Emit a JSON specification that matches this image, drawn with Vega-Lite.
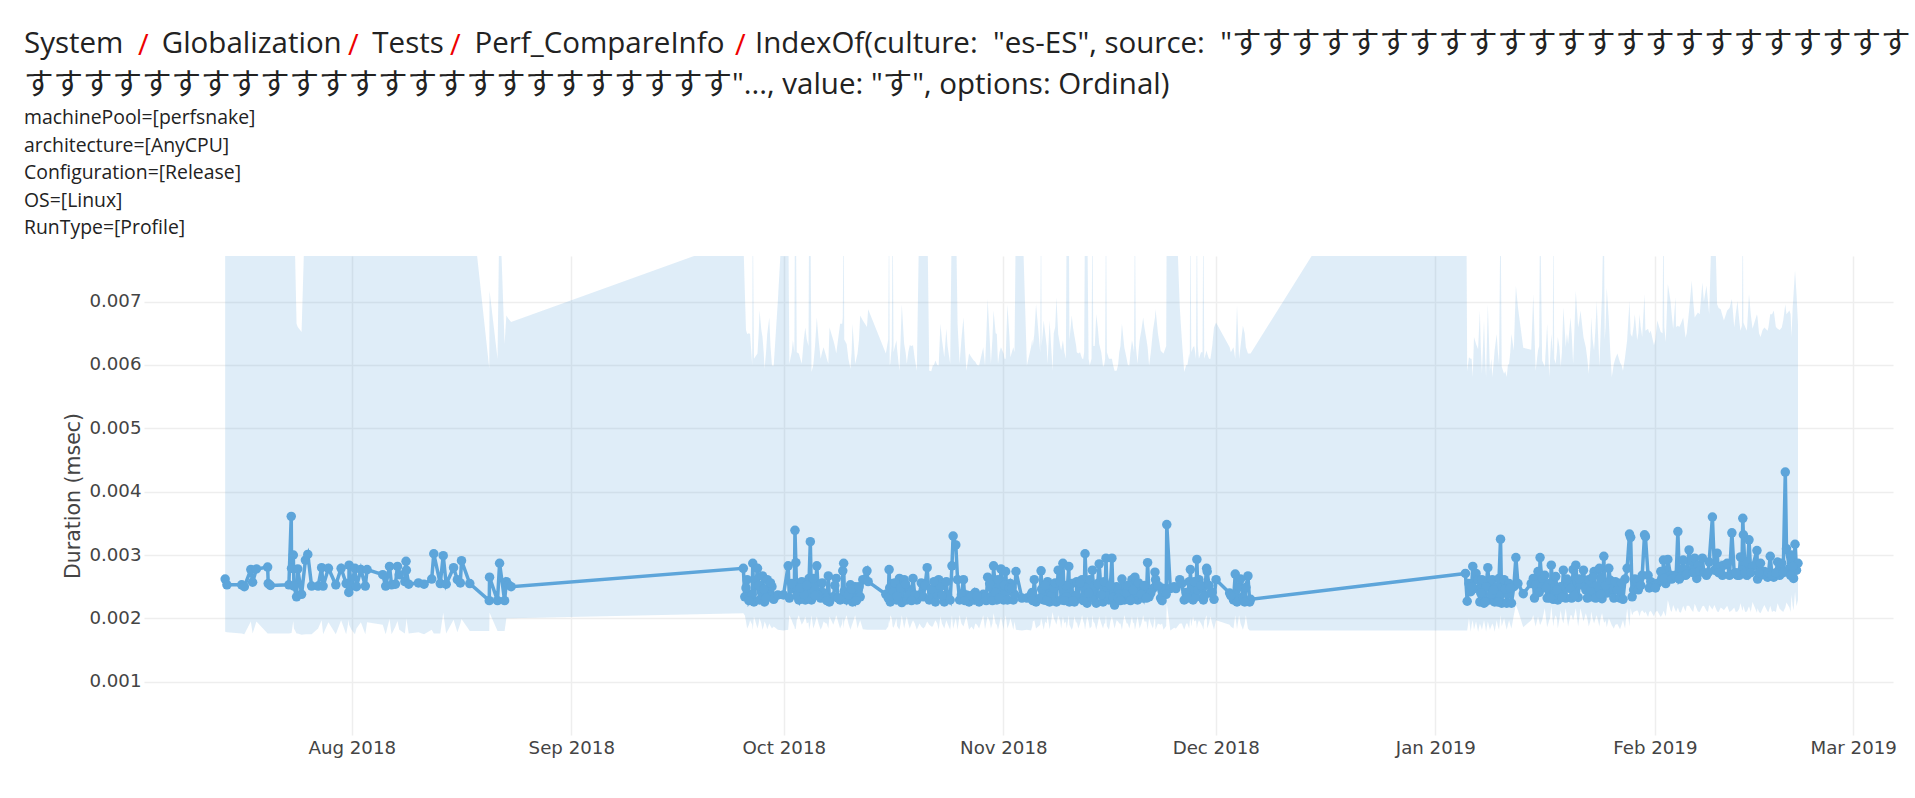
{"$schema":"https://vega.github.io/schema/vega-lite/v6.json","width":1749,"height":479,"autosize":"none","padding":{"left":144,"top":256,"right":22,"bottom":63},"background":"white",
"title":{"text":["System\u00a0\u00a0\u00a0\u00a0\u00a0Globalization\u00a0\u00a0\u00a0\u00a0Tests\u00a0\u00a0\u00a0\u00a0Perf_CompareInfo\u00a0\u00a0\u00a0\u00a0IndexOf(culture:\u00a0\u00a0\"es-ES\", source:\u00a0\u00a0\"すすすすすすすすすすすすすすすすすすすすすすす","すすすすすすすすすすすすすすすすすすすすすすすす\"..., value: \"す\", options: Ordinal)"],"subtitle":["machinePool=[perfsnake]","architecture=[AnyCPU]","Configuration=[Release]","OS=[Linux]","RunType=[Profile]"],"anchor":"start","frame":"group","dx":-120,"offset":-206.5,"font":"Open Sans, Noto Sans CJK JP","fontSize":29.5,"fontWeight":"normal","color":"#222222","lineHeight":41,"subtitleFont":"Open Sans","subtitleFontSize":19.4,"subtitleColor":"#222222","subtitleLineHeight":27.5,"subtitlePadding":9},
"config":{"view":{"stroke":null},"font":"Open Sans"},
"data":{"values":[
{"d":"2018-07-14T03:00","v":0.00262,"l":0.00179,"u":0.0086},{"d":"2018-07-14T09:00","v":0.00253,"l":0.00178,"u":0.0086},{"d":"2018-07-16T11:00","v":0.00253,"l":0.00176,"u":0.0086},{"d":"2018-07-16T20:00","v":0.0025,"l":0.00175,"u":0.0086},{"d":"2018-07-17T18:00","v":0.00277,"l":0.00195,"u":0.0086},{"d":"2018-07-18T00:00","v":0.00257,"l":0.00176,"u":0.0086},{"d":"2018-07-18T13:00","v":0.00278,"l":0.00195,"u":0.0086},{"d":"2018-07-20T03:00","v":0.00281,"l":0.00176,"u":0.0086},{"d":"2018-07-20T05:00","v":0.00255,"l":0.00176,"u":0.0086},{"d":"2018-07-20T12:00","v":0.00252,"l":0.00176,"u":0.0086},{"d":"2018-07-23T03:00","v":0.00253,"l":0.00176,"u":0.0086},{"d":"2018-07-23T11:00","v":0.00361,"l":0.00177,"u":0.0086},{"d":"2018-07-23T12:00","v":0.00279,"l":0.00177,"u":0.0086},{"d":"2018-07-23T18:00","v":0.003,"l":0.00196,"u":0.0086},{"d":"2018-07-23T20:00","v":0.00251,"l":0.00184,"u":0.0086},{"d":"2018-07-24T05:00","v":0.00234,"l":0.00176,"u":0.00665},{"d":"2018-07-24T09:00","v":0.00278,"l":0.00176,"u":0.0066},{"d":"2018-07-24T22:00","v":0.00238,"l":0.00174,"u":0.00652},{"d":"2018-07-25T11:00","v":0.00292,"l":0.00175,"u":0.0086},{"d":"2018-07-25T19:00","v":0.00301,"l":0.00175,"u":0.0086},{"d":"2018-07-26T08:00","v":0.00251,"l":0.00175,"u":0.0086},{"d":"2018-07-27T06:00","v":0.00251,"l":0.00184,"u":0.0086},{"d":"2018-07-27T18:00","v":0.0028,"l":0.00197,"u":0.0086},{"d":"2018-07-27T23:00","v":0.00251,"l":0.00175,"u":0.0086},{"d":"2018-07-28T17:00","v":0.00279,"l":0.00194,"u":0.0086},{"d":"2018-07-29T18:00","v":0.00253,"l":0.00175,"u":0.0086},{"d":"2018-07-30T12:00","v":0.00279,"l":0.00197,"u":0.0086},{"d":"2018-07-31T05:00","v":0.00255,"l":0.00175,"u":0.0086},{"d":"2018-07-31T14:00","v":0.00241,"l":0.00198,"u":0.0086},{"d":"2018-07-31T15:00","v":0.00284,"l":0.0019,"u":0.0086},{"d":"2018-07-31T23:00","v":0.00251,"l":0.00182,"u":0.0086},{"d":"2018-08-01T11:00","v":0.00279,"l":0.00175,"u":0.0086},{"d":"2018-08-01T16:00","v":0.0025,"l":0.00184,"u":0.0086},{"d":"2018-08-02T07:00","v":0.00277,"l":0.00194,"u":0.0086},{"d":"2018-08-02T22:00","v":0.00251,"l":0.00175,"u":0.0086},{"d":"2018-08-03T04:00","v":0.00277,"l":0.00194,"u":0.0086},{"d":"2018-08-05T09:00","v":0.00269,"l":0.0019,"u":0.0086},{"d":"2018-08-05T19:00","v":0.00251,"l":0.00175,"u":0.0086},{"d":"2018-08-06T08:00","v":0.00282,"l":0.00199,"u":0.0086},{"d":"2018-08-06T15:00","v":0.00253,"l":0.00175,"u":0.0086},{"d":"2018-08-07T04:00","v":0.00254,"l":0.00187,"u":0.0086},{"d":"2018-08-07T11:00","v":0.00282,"l":0.00196,"u":0.0086},{"d":"2018-08-07T17:00","v":0.00269,"l":0.00182,"u":0.0086},{"d":"2018-08-08T12:00","v":0.00258,"l":0.00176,"u":0.0086},{"d":"2018-08-08T16:00","v":0.0029,"l":0.00192,"u":0.0086},{"d":"2018-08-08T17:00","v":0.00276,"l":0.002,"u":0.0086},{"d":"2018-08-09T01:00","v":0.00254,"l":0.00176,"u":0.0086},{"d":"2018-08-10T10:00","v":0.00256,"l":0.00178,"u":0.0086},{"d":"2018-08-11T05:00","v":0.00254,"l":0.00175,"u":0.0086},{"d":"2018-08-12T07:00","v":0.00262,"l":0.00182,"u":0.0086},{"d":"2018-08-12T14:00","v":0.00302,"l":0.00176,"u":0.0086},{"d":"2018-08-13T12:00","v":0.00255,"l":0.00176,"u":0.0086},{"d":"2018-08-13T22:00","v":0.00299,"l":0.00209,"u":0.0086},{"d":"2018-08-14T08:00","v":0.00254,"l":0.00176,"u":0.0086},{"d":"2018-08-15T09:00","v":0.0028,"l":0.00198,"u":0.0086},{"d":"2018-08-15T22:00","v":0.00261,"l":0.00178,"u":0.0086},{"d":"2018-08-16T08:00","v":0.00256,"l":0.00192,"u":0.0086},{"d":"2018-08-16T12:00","v":0.00291,"l":0.00199,"u":0.0086},{"d":"2018-08-17T16:00","v":0.00255,"l":0.0018,"u":0.00879},{"d":"2018-08-20T10:00","v":0.00228,"l":0.0018,"u":0.00595},{"d":"2018-08-20T11:00","v":0.00265,"l":0.00209,"u":0.00717},{"d":"2018-08-21T14:00","v":0.00228,"l":0.0018,"u":0.0061},{"d":"2018-08-21T21:00","v":0.00287,"l":0.0018,"u":0.0086},{"d":"2018-08-22T14:00","v":0.00228,"l":0.0018,"u":0.00633},{"d":"2018-08-22T20:00","v":0.00258,"l":0.002,"u":0.00678},{"d":"2018-08-23T03:00","v":0.00253,"l":0.002,"u":0.00673},{"d":"2018-08-23T12:00","v":0.0025,"l":0.002,"u":0.00668},
{"d":"2018-09-25T07:00","v":0.00279,"l":0.00208,"u":0.008},{"d":"2018-09-25T12:00","v":0.00234,"l":0.00205,"u":0.00717},{"d":"2018-09-25T20:00","v":0.00261,"l":0.00184,"u":0.00649},{"d":"2018-09-26T06:00","v":0.00232,"l":0.00197,"u":0.00649},{"d":"2018-09-26T15:00","v":0.00287,"l":0.00182,"u":0.0086},{"d":"2018-09-26T19:00","v":0.00226,"l":0.00203,"u":0.0061},{"d":"2018-09-27T07:00","v":0.00279,"l":0.00184,"u":0.00618},{"d":"2018-09-27T14:00","v":0.00229,"l":0.002,"u":0.00686},{"d":"2018-09-28T00:00","v":0.00267,"l":0.00182,"u":0.00644},{"d":"2018-09-28T07:00","v":0.00226,"l":0.00195,"u":0.00594},{"d":"2018-09-28T16:00","v":0.00261,"l":0.00183,"u":0.00649},{"d":"2018-09-28T23:00","v":0.00234,"l":0.00192,"u":0.00675},{"d":"2018-09-29T08:00","v":0.0025,"l":0.00184,"u":0.00599},{"d":"2018-09-29T14:00","v":0.0023,"l":0.00187,"u":0.00599},{"d":"2018-09-30T04:00","v":0.00237,"l":0.00182,"u":0.00701},{"d":"2018-09-30T23:00","v":0.00237,"l":0.00181,"u":0.0086},{"d":"2018-10-01T15:00","v":0.00283,"l":0.00182,"u":0.0086},{"d":"2018-10-01T19:00","v":0.00232,"l":0.00205,"u":0.00602},{"d":"2018-10-02T07:00","v":0.00247,"l":0.00192,"u":0.00639},{"d":"2018-10-02T14:00","v":0.00339,"l":0.00183,"u":0.0086},{"d":"2018-10-02T17:00","v":0.00288,"l":0.00184,"u":0.0086},{"d":"2018-10-03T03:00","v":0.00229,"l":0.00205,"u":0.00618},{"d":"2018-10-03T13:00","v":0.00258,"l":0.0019,"u":0.00602},{"d":"2018-10-04T01:00","v":0.00229,"l":0.00203,"u":0.00659},{"d":"2018-10-04T14:00","v":0.00263,"l":0.00182,"u":0.0086},{"d":"2018-10-04T18:00","v":0.00321,"l":0.00191,"u":0.0086},{"d":"2018-10-04T22:00","v":0.00229,"l":0.00205,"u":0.00589},{"d":"2018-10-05T04:00","v":0.00263,"l":0.00184,"u":0.00599},{"d":"2018-10-05T16:00","v":0.00283,"l":0.00203,"u":0.00675},{"d":"2018-10-06T05:00","v":0.00232,"l":0.00182,"u":0.0061},{"d":"2018-10-06T15:00","v":0.0024,"l":0.00195,"u":0.00628},{"d":"2018-10-07T07:00","v":0.00267,"l":0.00184,"u":0.00602},{"d":"2018-10-07T11:00","v":0.00226,"l":0.00203,"u":0.00659},{"d":"2018-10-08T00:00","v":0.00234,"l":0.0019,"u":0.00639},{"d":"2018-10-08T10:00","v":0.00263,"l":0.00205,"u":0.00618},{"d":"2018-10-08T23:00","v":0.00229,"l":0.00184,"u":0.00665},{"d":"2018-10-09T08:00","v":0.00275,"l":0.002,"u":0.00675},{"d":"2018-10-09T11:00","v":0.00287,"l":0.00184,"u":0.0086},{"d":"2018-10-09T21:00","v":0.00229,"l":0.00205,"u":0.00633},{"d":"2018-10-10T10:00","v":0.00253,"l":0.00182,"u":0.00594},{"d":"2018-10-10T17:00","v":0.00226,"l":0.00192,"u":0.00665},{"d":"2018-10-11T02:00","v":0.0025,"l":0.00205,"u":0.00602},{"d":"2018-10-11T10:00","v":0.00232,"l":0.00184,"u":0.00618},{"d":"2018-10-11T19:00","v":0.00234,"l":0.00197,"u":0.00678},{"d":"2018-10-12T04:00","v":0.00261,"l":0.00183,"u":0.0067},{"d":"2018-10-12T18:00","v":0.00275,"l":0.00182,"u":0.0066},{"d":"2018-10-12T22:00","v":0.00258,"l":0.00182,"u":0.00688},{"d":"2018-10-15T10:00","v":0.00238,"l":0.00182,"u":0.00618},{"d":"2018-10-15T21:00","v":0.00277,"l":0.00197,"u":0.0086},{"d":"2018-10-16T01:00","v":0.00226,"l":0.00205,"u":0.00602},{"d":"2018-10-16T09:00","v":0.00255,"l":0.00187,"u":0.0086},{"d":"2018-10-16T22:00","v":0.00229,"l":0.002,"u":0.00639},{"d":"2018-10-17T08:00","v":0.00263,"l":0.00182,"u":0.00591},{"d":"2018-10-17T16:00","v":0.00225,"l":0.00205,"u":0.00696},{"d":"2018-10-18T00:00","v":0.00261,"l":0.00184,"u":0.00633},{"d":"2018-10-18T09:00","v":0.00229,"l":0.00203,"u":0.00602},{"d":"2018-10-18T19:00","v":0.00245,"l":0.00184,"u":0.00631},{"d":"2018-10-19T06:00","v":0.00263,"l":0.00197,"u":0.00631},{"d":"2018-10-19T19:00","v":0.00229,"l":0.00182,"u":0.00591},{"d":"2018-10-20T04:00","v":0.00237,"l":0.00192,"u":0.0086},{"d":"2018-10-20T17:00","v":0.00234,"l":0.00184,"u":0.0086},{"d":"2018-10-21T06:00","v":0.0028,"l":0.00195,"u":0.0086},{"d":"2018-10-21T13:00","v":0.00229,"l":0.0019,"u":0.00591},{"d":"2018-10-22T01:00","v":0.00234,"l":0.00187,"u":0.00599},{"d":"2018-10-22T10:00","v":0.00226,"l":0.00197,"u":0.00607},{"d":"2018-10-22T21:00","v":0.00261,"l":0.00182,"u":0.00599},{"d":"2018-10-23T03:00","v":0.0025,"l":0.00203,"u":0.00665},{"d":"2018-10-23T16:00","v":0.00226,"l":0.00184,"u":0.00612},{"d":"2018-10-23T23:00","v":0.00258,"l":0.00197,"u":0.00657},{"d":"2018-10-24T12:00","v":0.00229,"l":0.00182,"u":0.00602},{"d":"2018-10-24T18:00","v":0.00283,"l":0.00205,"u":0.0086},{"d":"2018-10-24T22:00","v":0.0033,"l":0.00184,"u":0.0086},{"d":"2018-10-25T07:00","v":0.00316,"l":0.002,"u":0.0086},{"d":"2018-10-25T13:00","v":0.00261,"l":0.00182,"u":0.00665},{"d":"2018-10-25T20:00","v":0.00229,"l":0.00205,"u":0.00602},{"d":"2018-10-26T09:00","v":0.00261,"l":0.00187,"u":0.00675},{"d":"2018-10-26T19:00","v":0.00237,"l":0.00203,"u":0.00591},{"d":"2018-10-27T04:00","v":0.00226,"l":0.00182,"u":0.00618},{"d":"2018-10-27T20:00","v":0.00229,"l":0.00182,"u":0.00607},{"d":"2018-10-28T14:00","v":0.00226,"l":0.00184,"u":0.00599},{"d":"2018-10-29T04:00","v":0.00238,"l":0.00205,"u":0.00628},{"d":"2018-10-29T10:00","v":0.00234,"l":0.00183,"u":0.00599},{"d":"2018-10-29T19:00","v":0.00265,"l":0.00203,"u":0.00704},{"d":"2018-10-30T06:00","v":0.00234,"l":0.00184,"u":0.00602},{"d":"2018-10-30T15:00","v":0.00283,"l":0.00208,"u":0.00686},{"d":"2018-10-31T02:00","v":0.00229,"l":0.0019,"u":0.00649},{"d":"2018-10-31T06:00","v":0.00261,"l":0.00182,"u":0.00602},{"d":"2018-10-31T16:00","v":0.00278,"l":0.00203,"u":0.00628},{"d":"2018-11-01T01:00","v":0.00229,"l":0.00182,"u":0.00618},{"d":"2018-11-01T08:00","v":0.00274,"l":0.00205,"u":0.0061},{"d":"2018-11-01T14:00","v":0.00229,"l":0.00184,"u":0.00696},{"d":"2018-11-02T00:00","v":0.00255,"l":0.002,"u":0.00612},{"d":"2018-11-02T10:00","v":0.00229,"l":0.00182,"u":0.00628},{"d":"2018-11-02T19:00","v":0.00274,"l":0.00182,"u":0.0086},{"d":"2018-11-03T15:00","v":0.00232,"l":0.00181,"u":0.0086},{"d":"2018-11-04T08:00","v":0.00232,"l":0.00182,"u":0.00599},{"d":"2018-11-04T22:00","v":0.00237,"l":0.00181,"u":0.00628},{"d":"2018-11-05T09:00","v":0.00261,"l":0.00197,"u":0.00649},{"d":"2018-11-05T15:00","v":0.00226,"l":0.00184,"u":0.00696},{"d":"2018-11-06T08:00","v":0.00275,"l":0.002,"u":0.0086},{"d":"2018-11-06T17:00","v":0.00229,"l":0.00182,"u":0.0067},{"d":"2018-11-07T06:00","v":0.00258,"l":0.00205,"u":0.00602},{"d":"2018-11-07T13:00","v":0.00226,"l":0.00183,"u":0.0067},{"d":"2018-11-07T23:00","v":0.00247,"l":0.0021,"u":0.00591},{"d":"2018-11-08T12:00","v":0.00226,"l":0.0019,"u":0.00707},{"d":"2018-11-08T18:00","v":0.00276,"l":0.00205,"u":0.00649},{"d":"2018-11-09T04:00","v":0.00229,"l":0.00184,"u":0.00623},{"d":"2018-11-09T10:00","v":0.00287,"l":0.00203,"u":0.00639},{"d":"2018-11-09T23:00","v":0.00234,"l":0.00184,"u":0.0086},{"d":"2018-11-10T06:00","v":0.00282,"l":0.00205,"u":0.0086},{"d":"2018-11-10T08:00","v":0.00226,"l":0.0019,"u":0.00639},{"d":"2018-11-10T16:00","v":0.00255,"l":0.00182,"u":0.00678},{"d":"2018-11-11T01:00","v":0.00226,"l":0.00203,"u":0.00646},{"d":"2018-11-11T14:00","v":0.00232,"l":0.00184,"u":0.00618},{"d":"2018-11-12T03:00","v":0.00261,"l":0.00205,"u":0.0061},{"d":"2018-11-12T13:00","v":0.00302,"l":0.00182,"u":0.0086},{"d":"2018-11-12T20:00","v":0.00224,"l":0.00203,"u":0.0086},{"d":"2018-11-13T05:00","v":0.00261,"l":0.00184,"u":0.00599},{"d":"2018-11-13T14:00","v":0.00276,"l":0.00205,"u":0.0086},{"d":"2018-11-14T03:00","v":0.00224,"l":0.00182,"u":0.0068},{"d":"2018-11-14T13:00","v":0.00286,"l":0.00203,"u":0.00633},{"d":"2018-11-15T02:00","v":0.00226,"l":0.00184,"u":0.00597},{"d":"2018-11-15T12:00","v":0.00295,"l":0.00205,"u":0.0086},{"d":"2018-11-15T22:00","v":0.00229,"l":0.00182,"u":0.0061},{"d":"2018-11-16T08:00","v":0.00295,"l":0.00203,"u":0.0061},{"d":"2018-11-16T17:00","v":0.00221,"l":0.00184,"u":0.00591},{"d":"2018-11-17T00:00","v":0.0025,"l":0.00197,"u":0.00591},{"d":"2018-11-17T18:00","v":0.00262,"l":0.00182,"u":0.00665},{"d":"2018-11-18T02:00","v":0.00229,"l":0.00205,"u":0.00628},{"d":"2018-11-18T19:00","v":0.00234,"l":0.00184,"u":0.00599},{"d":"2018-11-19T04:00","v":0.00261,"l":0.00203,"u":0.00639},{"d":"2018-11-19T14:00","v":0.00265,"l":0.00182,"u":0.0086},{"d":"2018-11-19T23:00","v":0.00229,"l":0.00203,"u":0.00602},{"d":"2018-11-20T06:00","v":0.00247,"l":0.00184,"u":0.00639},{"d":"2018-11-20T18:00","v":0.00232,"l":0.00205,"u":0.00675},{"d":"2018-11-21T09:00","v":0.00288,"l":0.00182,"u":0.00628},{"d":"2018-11-21T14:00","v":0.00234,"l":0.002,"u":0.00599},{"d":"2018-11-22T03:00","v":0.00247,"l":0.00184,"u":0.00654},{"d":"2018-11-22T10:00","v":0.00273,"l":0.00203,"u":0.00675},{"d":"2018-11-22T12:00","v":0.00261,"l":0.00182,"u":0.00688},{"d":"2018-11-23T05:00","v":0.00232,"l":0.0019,"u":0.00623},{"d":"2018-11-23T15:00","v":0.00247,"l":0.00182,"u":0.00618},{"d":"2018-11-24T02:00","v":0.00348,"l":0.00224,"u":0.0086},{"d":"2018-11-24T14:00","v":0.00247,"l":0.00181,"u":0.0086},{"d":"2018-11-25T09:00","v":0.00247,"l":0.00184,"u":0.0086},{"d":"2018-11-25T22:00","v":0.00261,"l":0.00192,"u":0.00691},{"d":"2018-11-26T13:00","v":0.00229,"l":0.00182,"u":0.00589},{"d":"2018-11-27T06:00","v":0.00258,"l":0.00184,"u":0.00618},{"d":"2018-11-27T10:00","v":0.00277,"l":0.002,"u":0.0086},{"d":"2018-11-27T19:00","v":0.00229,"l":0.00203,"u":0.00628},{"d":"2018-11-28T08:00","v":0.00293,"l":0.00184,"u":0.0086},{"d":"2018-11-28T15:00","v":0.00261,"l":0.00197,"u":0.0061},{"d":"2018-11-29T06:00","v":0.00229,"l":0.00182,"u":0.0086},{"d":"2018-11-29T17:00","v":0.00279,"l":0.00205,"u":0.00623},{"d":"2018-11-29T19:00","v":0.00274,"l":0.00184,"u":0.00618},{"d":"2018-11-30T06:00","v":0.0024,"l":0.00203,"u":0.0061},{"d":"2018-11-30T18:00","v":0.0023,"l":0.00182,"u":0.00659},{"d":"2018-12-01T01:00","v":0.00261,"l":0.00197,"u":0.00667},{"d":"2018-12-02T23:00","v":0.0024,"l":0.0019,"u":0.00628},{"d":"2018-12-03T12:00","v":0.00229,"l":0.00184,"u":0.00628},{"d":"2018-12-03T18:00","v":0.0027,"l":0.00205,"u":0.0061},{"d":"2018-12-04T00:00","v":0.00226,"l":0.00183,"u":0.00694},{"d":"2018-12-04T07:00","v":0.0025,"l":0.00205,"u":0.0061},{"d":"2018-12-04T20:00","v":0.00234,"l":0.00182,"u":0.00662},{"d":"2018-12-05T06:00","v":0.00249,"l":0.00205,"u":0.00628},{"d":"2018-12-05T13:00","v":0.00267,"l":0.00184,"u":0.00618},{"d":"2018-12-05T19:00","v":0.00226,"l":0.00181,"u":0.00618},{"d":"2018-12-05T22:00","v":0.0023,"l":0.00181,"u":0.00618},
{"d":"2019-01-05T06:00","v":0.00271,"l":0.00181,"u":0.0116},{"d":"2019-01-05T12:00","v":0.00227,"l":0.00181,"u":0.0059},{"d":"2019-01-05T18:00","v":0.00255,"l":0.002,"u":0.00612},{"d":"2019-01-06T00:00","v":0.00242,"l":0.00179,"u":0.0061},{"d":"2019-01-06T07:00","v":0.00282,"l":0.00197,"u":0.00581},{"d":"2019-01-06T11:00","v":0.00247,"l":0.00182,"u":0.00644},{"d":"2019-01-06T18:00","v":0.00271,"l":0.00195,"u":0.00633},{"d":"2019-01-07T01:00","v":0.00261,"l":0.00179,"u":0.00625},{"d":"2019-01-07T07:00","v":0.00226,"l":0.00192,"u":0.00686},{"d":"2019-01-07T14:00","v":0.00261,"l":0.00182,"u":0.00586},{"d":"2019-01-07T21:00","v":0.00224,"l":0.00197,"u":0.0067},{"d":"2019-01-08T04:00","v":0.0025,"l":0.00179,"u":0.00581},{"d":"2019-01-08T10:00","v":0.0028,"l":0.00195,"u":0.00696},{"d":"2019-01-08T17:00","v":0.00229,"l":0.00182,"u":0.00591},{"d":"2019-01-09T01:00","v":0.00261,"l":0.00192,"u":0.00581},{"d":"2019-01-09T09:00","v":0.00226,"l":0.00179,"u":0.00623},{"d":"2019-01-09T16:00","v":0.0025,"l":0.00197,"u":0.00649},{"d":"2019-01-10T00:00","v":0.00263,"l":0.00182,"u":0.00602},{"d":"2019-01-10T05:00","v":0.00325,"l":0.00205,"u":0.0086},{"d":"2019-01-10T09:00","v":0.00224,"l":0.00187,"u":0.00597},{"d":"2019-01-10T17:00","v":0.00261,"l":0.002,"u":0.00586},{"d":"2019-01-11T02:00","v":0.00224,"l":0.00182,"u":0.00581},{"d":"2019-01-11T10:00","v":0.00255,"l":0.00197,"u":0.00602},{"d":"2019-01-11T18:00","v":0.00224,"l":0.00184,"u":0.00649},{"d":"2019-01-12T02:00","v":0.0025,"l":0.00205,"u":0.00623},{"d":"2019-01-12T09:00","v":0.00296,"l":0.00221,"u":0.00725},{"d":"2019-01-12T16:00","v":0.00255,"l":0.00213,"u":0.00691},{"d":"2019-01-13T10:00","v":0.00239,"l":0.00186,"u":0.00627},{"d":"2019-01-14T13:00","v":0.00255,"l":0.00197,"u":0.00624},{"d":"2019-01-14T20:00","v":0.00263,"l":0.00205,"u":0.00712},{"d":"2019-01-15T04:00","v":0.00253,"l":0.00187,"u":0.00591},{"d":"2019-01-15T12:00","v":0.00274,"l":0.00203,"u":0.00623},{"d":"2019-01-15T19:00","v":0.00296,"l":0.00189,"u":0.0086},{"d":"2019-01-16T02:00","v":0.0025,"l":0.00197,"u":0.00607},{"d":"2019-01-16T11:00","v":0.00268,"l":0.00216,"u":0.00597},{"d":"2019-01-16T19:00","v":0.00232,"l":0.00186,"u":0.00665},{"d":"2019-01-17T02:00","v":0.00255,"l":0.00197,"u":0.00581},{"d":"2019-01-17T09:00","v":0.00284,"l":0.00219,"u":0.00649},{"d":"2019-01-17T16:00","v":0.0023,"l":0.00187,"u":0.0086},{"d":"2019-01-18T00:00","v":0.00266,"l":0.00205,"u":0.00602},{"d":"2019-01-18T07:00","v":0.00229,"l":0.00184,"u":0.00644},{"d":"2019-01-18T17:00","v":0.0025,"l":0.00213,"u":0.00597},{"d":"2019-01-19T02:00","v":0.00276,"l":0.00192,"u":0.00691},{"d":"2019-01-19T10:00","v":0.00232,"l":0.00216,"u":0.00628},{"d":"2019-01-19T18:00","v":0.00255,"l":0.00187,"u":0.00633},{"d":"2019-01-20T02:00","v":0.00247,"l":0.00205,"u":0.00675},{"d":"2019-01-20T11:00","v":0.00277,"l":0.00197,"u":0.00602},{"d":"2019-01-20T20:00","v":0.00284,"l":0.00216,"u":0.00717},{"d":"2019-01-21T04:00","v":0.00233,"l":0.00187,"u":0.00659},{"d":"2019-01-21T12:00","v":0.00253,"l":0.00216,"u":0.00686},{"d":"2019-01-21T22:00","v":0.00276,"l":0.00195,"u":0.00644},{"d":"2019-01-22T06:00","v":0.00245,"l":0.00208,"u":0.00628},{"d":"2019-01-22T16:00","v":0.00261,"l":0.00187,"u":0.00586},{"d":"2019-01-23T00:00","v":0.00234,"l":0.00211,"u":0.00675},{"d":"2019-01-23T10:00","v":0.00274,"l":0.00192,"u":0.00623},{"d":"2019-01-23T19:00","v":0.00233,"l":0.00205,"u":0.00701},{"d":"2019-01-24T04:00","v":0.00279,"l":0.00187,"u":0.00597},{"d":"2019-01-24T13:00","v":0.00231,"l":0.00208,"u":0.00712},{"d":"2019-01-24T19:00","v":0.00298,"l":0.00195,"u":0.0086},{"d":"2019-01-25T05:00","v":0.0024,"l":0.00186,"u":0.00722},{"d":"2019-01-25T12:00","v":0.00279,"l":0.002,"u":0.0067},{"d":"2019-01-25T22:00","v":0.00247,"l":0.00189,"u":0.00581},{"d":"2019-01-26T05:00","v":0.00232,"l":0.00184,"u":0.00602},{"d":"2019-01-26T17:00","v":0.00245,"l":0.00191,"u":0.00618},{"d":"2019-01-27T02:00","v":0.00232,"l":0.00183,"u":0.00604},{"d":"2019-01-27T12:00","v":0.0023,"l":0.00197,"u":0.00591},{"d":"2019-01-27T19:00","v":0.00262,"l":0.00184,"u":0.00612},{"d":"2019-01-28T02:00","v":0.00279,"l":0.00216,"u":0.00639},{"d":"2019-01-28T10:00","v":0.00333,"l":0.00187,"u":0.00701},{"d":"2019-01-28T14:00","v":0.00328,"l":0.00216,"u":0.00649},{"d":"2019-01-28T19:00","v":0.00234,"l":0.00205,"u":0.00644},{"d":"2019-01-29T04:00","v":0.00262,"l":0.00211,"u":0.0068},{"d":"2019-01-29T12:00","v":0.00258,"l":0.00213,"u":0.00639},{"d":"2019-01-29T20:00","v":0.00261,"l":0.00203,"u":0.0068},{"d":"2019-01-30T05:00","v":0.00268,"l":0.00213,"u":0.00644},{"d":"2019-01-30T13:00","v":0.00332,"l":0.00208,"u":0.00712},{"d":"2019-01-30T16:00","v":0.00329,"l":0.00211,"u":0.00654},{"d":"2019-01-31T01:00","v":0.00268,"l":0.00202,"u":0.00657},{"d":"2019-01-31T10:00","v":0.00258,"l":0.00212,"u":0.00654},{"d":"2019-01-31T21:00","v":0.00251,"l":0.00203,"u":0.00631},{"d":"2019-02-01T08:00","v":0.00255,"l":0.00212,"u":0.0067},{"d":"2019-02-01T20:00","v":0.00274,"l":0.00202,"u":0.00652},{"d":"2019-02-02T05:00","v":0.00292,"l":0.00212,"u":0.0086},{"d":"2019-02-02T13:00","v":0.00255,"l":0.00203,"u":0.00636},{"d":"2019-02-02T20:00","v":0.00293,"l":0.00229,"u":0.00728},{"d":"2019-02-03T05:00","v":0.00268,"l":0.00213,"u":0.00701},{"d":"2019-02-03T14:00","v":0.00266,"l":0.00221,"u":0.00657},{"d":"2019-02-03T22:00","v":0.00268,"l":0.00212,"u":0.00707},{"d":"2019-02-04T06:00","v":0.00337,"l":0.00217,"u":0.00662},{"d":"2019-02-04T16:00","v":0.00266,"l":0.00209,"u":0.00665},{"d":"2019-02-05T00:00","v":0.00292,"l":0.0022,"u":0.00675},{"d":"2019-02-05T08:00","v":0.00268,"l":0.00211,"u":0.00643},{"d":"2019-02-05T20:00","v":0.00308,"l":0.0022,"u":0.00686},{"d":"2019-02-06T05:00","v":0.00276,"l":0.00213,"u":0.00733},{"d":"2019-02-06T15:00","v":0.00295,"l":0.00223,"u":0.00675},{"d":"2019-02-07T02:00","v":0.00284,"l":0.00211,"u":0.00683},{"d":"2019-02-07T17:00","v":0.00295,"l":0.00219,"u":0.0073},{"d":"2019-02-08T07:00","v":0.00268,"l":0.00212,"u":0.00725},{"d":"2019-02-08T16:00","v":0.00289,"l":0.00221,"u":0.0068},{"d":"2019-02-09T03:00","v":0.0036,"l":0.00214,"u":0.0086},{"d":"2019-02-09T10:00","v":0.00276,"l":0.00221,"u":0.0086},{"d":"2019-02-09T19:00","v":0.00303,"l":0.00211,"u":0.00696},{"d":"2019-02-10T07:00","v":0.00282,"l":0.00217,"u":0.00688},{"d":"2019-02-10T18:00","v":0.00284,"l":0.00213,"u":0.0067},{"d":"2019-02-11T05:00","v":0.00287,"l":0.0022,"u":0.00686},{"d":"2019-02-11T21:00","v":0.00335,"l":0.00213,"u":0.00704},{"d":"2019-02-12T05:00","v":0.00271,"l":0.00217,"u":0.00659},{"d":"2019-02-12T16:00","v":0.00268,"l":0.00211,"u":0.00701},{"d":"2019-02-13T02:00","v":0.00297,"l":0.00224,"u":0.00654},{"d":"2019-02-13T10:00","v":0.00358,"l":0.00212,"u":0.0086},{"d":"2019-02-13T12:00","v":0.00332,"l":0.0022,"u":0.00667},{"d":"2019-02-14T00:00","v":0.00268,"l":0.00211,"u":0.00654},{"d":"2019-02-14T07:00","v":0.00324,"l":0.00219,"u":0.00712},{"d":"2019-02-14T19:00","v":0.00282,"l":0.00226,"u":0.00657},{"d":"2019-02-15T10:00","v":0.00307,"l":0.00209,"u":0.0068},{"d":"2019-02-15T12:00","v":0.00262,"l":0.00216,"u":0.00675},{"d":"2019-02-15T22:00","v":0.00287,"l":0.00208,"u":0.00644},{"d":"2019-02-16T11:00","v":0.00274,"l":0.00221,"u":0.00659},{"d":"2019-02-16T22:00","v":0.00265,"l":0.00211,"u":0.00654},{"d":"2019-02-17T07:00","v":0.00298,"l":0.0022,"u":0.0068},{"d":"2019-02-17T19:00","v":0.00265,"l":0.00212,"u":0.00686},{"d":"2019-02-18T08:00","v":0.00289,"l":0.00224,"u":0.00657},{"d":"2019-02-18T22:00","v":0.00287,"l":0.00212,"u":0.00659},{"d":"2019-02-19T10:00","v":0.00431,"l":0.00217,"u":0.00696},{"d":"2019-02-19T14:00","v":0.0031,"l":0.00225,"u":0.0068},{"d":"2019-02-20T00:00","v":0.00279,"l":0.00217,"u":0.00686},{"d":"2019-02-20T07:00","v":0.003,"l":0.00237,"u":0.00644},{"d":"2019-02-20T14:00","v":0.00263,"l":0.00213,"u":0.00712},{"d":"2019-02-20T19:00","v":0.00317,"l":0.00242,"u":0.00749},{"d":"2019-02-21T00:00","v":0.00276,"l":0.00219,"u":0.00712},{"d":"2019-02-21T05:00","v":0.00287,"l":0.00229,"u":0.00665},
{"d":"2018-09-26T13:00","v":0.00238,"l":0.0019,"u":0.006},{"d":"2018-10-02T12:00","v":0.0025,"l":0.00187,"u":0.0062},{"d":"2018-10-02T20:00","v":0.00236,"l":0.00197,"u":0.0062},{"d":"2018-10-04T12:00","v":0.00232,"l":0.00194,"u":0.0063},{"d":"2018-10-09T06:00","v":0.00233,"l":0.00192,"u":0.00665},{"d":"2018-10-09T13:00","v":0.00243,"l":0.00195,"u":0.0064},{"d":"2018-10-15T18:00","v":0.00232,"l":0.00187,"u":0.0064},{"d":"2018-10-15T23:00","v":0.00248,"l":0.00192,"u":0.006},{"d":"2018-10-16T06:00","v":0.00236,"l":0.002,"u":0.0063},{"d":"2018-10-16T12:00","v":0.00242,"l":0.00185,"u":0.0062},{"d":"2018-11-06T05:00","v":0.00232,"l":0.0019,"u":0.0062},{"d":"2018-11-06T10:00","v":0.00246,"l":0.00197,"u":0.0063},{"d":"2018-11-09T20:00","v":0.00252,"l":0.00195,"u":0.0061},{"d":"2018-11-12T10:00","v":0.00235,"l":0.00192,"u":0.0062},{"d":"2018-11-13T11:00","v":0.00232,"l":0.00187,"u":0.0061},{"d":"2018-11-13T17:00","v":0.00243,"l":0.00195,"u":0.0063},{"d":"2018-11-15T09:00","v":0.00236,"l":0.00192,"u":0.0061},{"d":"2018-11-15T15:00","v":0.00249,"l":0.00188,"u":0.0062},{"d":"2018-11-19T11:00","v":0.00233,"l":0.00194,"u":0.0062},{"d":"2018-11-19T17:00","v":0.00242,"l":0.00188,"u":0.0063},{"d":"2018-11-24T00:00","v":0.00238,"l":0.00188,"u":0.0063},{"d":"2018-11-27T08:00","v":0.00239,"l":0.00195,"u":0.0061},{"d":"2018-11-27T13:00","v":0.00244,"l":0.00187,"u":0.0062},{"d":"2018-11-28T05:00","v":0.00234,"l":0.00197,"u":0.0061},{"d":"2018-11-28T11:00","v":0.00245,"l":0.00192,"u":0.0063},{"d":"2018-11-29T03:00","v":0.00248,"l":0.00187,"u":0.0062},{"d":"2018-11-29T09:00","v":0.00235,"l":0.00196,"u":0.0061},{"d":"2019-01-15T16:00","v":0.00241,"l":0.00196,"u":0.0063},{"d":"2019-01-17T14:00","v":0.00247,"l":0.00196,"u":0.0062},{"d":"2019-01-17T19:00","v":0.00237,"l":0.00199,"u":0.0061},{"d":"2019-01-24T22:00","v":0.00245,"l":0.00193,"u":0.0064},{"d":"2019-02-02T02:00","v":0.00259,"l":0.00207,"u":0.0065},{"d":"2019-02-02T08:00","v":0.00263,"l":0.00209,"u":0.0066},{"d":"2019-02-13T07:00","v":0.00276,"l":0.00215,"u":0.00662},
{"d":"2018-09-27T20:00","v":0.00242,"l":0.00192,"u":0.00655},{"d":"2018-10-03T20:00","v":0.00238,"l":0.00196,"u":0.0064},{"d":"2018-10-05T22:00","v":0.00236,"l":0.00192,"u":0.0064},{"d":"2018-10-06T23:00","v":0.00232,"l":0.00192,"u":0.00615},{"d":"2018-10-10T03:00","v":0.00237,"l":0.00192,"u":0.0061},{"d":"2018-10-17T00:00","v":0.00235,"l":0.00188,"u":0.00625},{"d":"2018-10-18T14:00","v":0.00236,"l":0.00192,"u":0.0062},{"d":"2018-10-19T12:00","v":0.00237,"l":0.00192,"u":0.0061},{"d":"2018-10-22T16:00","v":0.00238,"l":0.00192,"u":0.006},{"d":"2018-10-24T03:00","v":0.00237,"l":0.00192,"u":0.0063},{"d":"2018-10-26T02:00","v":0.00237,"l":0.00192,"u":0.0064},{"d":"2018-10-28T01:00","v":0.00241,"l":0.00192,"u":0.00605},{"d":"2018-10-30T22:00","v":0.00241,"l":0.00192,"u":0.0065},{"d":"2018-11-02T14:00","v":0.00238,"l":0.00195,"u":0.0062},{"d":"2018-11-05T02:00","v":0.00241,"l":0.00187,"u":0.0064},{"d":"2018-11-07T18:00","v":0.00236,"l":0.00195,"u":0.0063},{"d":"2018-11-11T07:00","v":0.00236,"l":0.00192,"u":0.0063},{"d":"2018-11-14T20:00","v":0.00237,"l":0.00192,"u":0.0062},{"d":"2018-11-17T09:00","v":0.00238,"l":0.00192,"u":0.0062},{"d":"2018-11-18T10:00","v":0.00241,"l":0.00192,"u":0.0061},{"d":"2018-11-20T12:00","v":0.00238,"l":0.00192,"u":0.00655},{"d":"2018-11-21T20:00","v":0.0024,"l":0.00192,"u":0.0062},{"d":"2018-11-26T20:00","v":0.00241,"l":0.00192,"u":0.006},{"d":"2018-11-30T12:00","v":0.00241,"l":0.00192,"u":0.0063},{"d":"2019-01-08T22:00","v":0.00238,"l":0.00188,"u":0.0061},{"d":"2019-01-11T06:00","v":0.00238,"l":0.0019,"u":0.006},{"d":"2019-01-18T12:00","v":0.00238,"l":0.00197,"u":0.0063},{"d":"2019-01-22T22:00","v":0.00242,"l":0.00197,"u":0.0063},{"d":"2019-01-25T01:00","v":0.00252,"l":0.00197,"u":0.0066},{"d":"2019-02-06T22:00","v":0.00263,"l":0.00215,"u":0.0068},{"d":"2019-02-10T13:00","v":0.00268,"l":0.00215,"u":0.00678},{"d":"2019-02-12T22:00","v":0.00268,"l":0.00215,"u":0.0067},{"d":"2019-02-16T05:00","v":0.00269,"l":0.00215,"u":0.00655},{"d":"2019-02-18T15:00","v":0.00268,"l":0.00215,"u":0.00655},
{"d":"2018-09-25T16:00","v":0.00248,"l":0.00195,"u":0.00655},{"d":"2018-09-26T02:00","v":0.00228,"l":0.0019,"u":0.0065},{"d":"2018-09-27T11:00","v":0.00252,"l":0.00192,"u":0.0065},{"d":"2018-09-28T04:00","v":0.00246,"l":0.00188,"u":0.0062},{"d":"2018-09-28T12:00","v":0.00232,"l":0.0019,"u":0.0062},{"d":"2018-09-29T03:00","v":0.00256,"l":0.00188,"u":0.0063},{"d":"2018-10-02T03:00","v":0.00255,"l":0.00197,"u":0.0062},{"d":"2018-10-03T08:00","v":0.00248,"l":0.00197,"u":0.0061},{"d":"2018-10-04T06:00","v":0.00252,"l":0.00192,"u":0.0064},{"d":"2018-10-05T10:00","v":0.00236,"l":0.00192,"u":0.0063},{"d":"2018-10-06T10:00","v":0.00256,"l":0.00187,"u":0.0062},{"d":"2018-10-07T02:00","v":0.00228,"l":0.00192,"u":0.0061},{"d":"2018-10-08T05:00","v":0.00252,"l":0.00197,"u":0.0063},{"d":"2018-10-08T16:00","v":0.00232,"l":0.00195,"u":0.0064},{"d":"2018-10-10T14:00","v":0.00246,"l":0.00188,"u":0.0062},{"d":"2018-10-11T06:00","v":0.00228,"l":0.00195,"u":0.0061},{"d":"2018-10-11T15:00","v":0.0025,"l":0.00192,"u":0.0064},{"d":"2018-10-16T17:00","v":0.00256,"l":0.00192,"u":0.0063},{"d":"2018-10-17T12:00","v":0.00248,"l":0.00192,"u":0.0064},{"d":"2018-10-18T05:00","v":0.00254,"l":0.00195,"u":0.0062},{"d":"2018-10-19T01:00","v":0.00228,"l":0.00192,"u":0.0063},{"d":"2018-10-20T10:00","v":0.00256,"l":0.00187,"u":0.0086},{"d":"2018-10-20T23:00","v":0.00252,"l":0.00187,"u":0.0086},{"d":"2018-10-21T20:00","v":0.00246,"l":0.00187,"u":0.0059},{"d":"2018-10-22T05:00","v":0.00258,"l":0.00192,"u":0.006},{"d":"2018-10-23T08:00","v":0.00236,"l":0.00192,"u":0.0064},{"d":"2018-10-26T14:00","v":0.00228,"l":0.00195,"u":0.0063},{"d":"2018-10-27T12:00","v":0.00236,"l":0.00187,"u":0.00612},{"d":"2018-10-28T07:00","v":0.00235,"l":0.0019,"u":0.006},{"d":"2018-10-29T14:00","v":0.00228,"l":0.00192,"u":0.0064},{"d":"2018-10-30T02:00","v":0.00255,"l":0.00195,"u":0.0064},{"d":"2018-10-30T11:00","v":0.00228,"l":0.00192,"u":0.0064},{"d":"2018-10-31T11:00","v":0.00232,"l":0.00192,"u":0.0062},{"d":"2018-11-01T04:00","v":0.00252,"l":0.00195,"u":0.0061},{"d":"2018-11-01T20:00","v":0.00248,"l":0.00192,"u":0.0065},{"d":"2018-11-02T05:00","v":0.00248,"l":0.00192,"u":0.0062},{"d":"2018-11-05T04:00","v":0.00228,"l":0.00195,"u":0.0063},{"d":"2018-11-06T22:00","v":0.00252,"l":0.00195,"u":0.0065},{"d":"2018-11-07T03:00","v":0.00228,"l":0.00192,"u":0.0063},{"d":"2018-11-08T03:00","v":0.00248,"l":0.002,"u":0.0065},{"d":"2018-11-08T08:00","v":0.00256,"l":0.00195,"u":0.0066},{"d":"2018-11-09T01:00","v":0.00258,"l":0.00195,"u":0.0063},{"d":"2018-11-09T15:00","v":0.00228,"l":0.00192,"u":0.0062},{"d":"2018-11-10T20:00","v":0.00228,"l":0.00187,"u":0.0066},{"d":"2018-11-11T09:00","v":0.00258,"l":0.00195,"u":0.0062},{"d":"2018-11-11T20:00","v":0.00256,"l":0.00192,"u":0.0062},{"d":"2018-11-12T07:00","v":0.00228,"l":0.00195,"u":0.0061},{"d":"2018-11-13T01:00","v":0.0024,"l":0.00195,"u":0.0061},{"d":"2018-11-13T22:00","v":0.00252,"l":0.00192,"u":0.0063},{"d":"2018-11-14T08:00","v":0.00255,"l":0.00192,"u":0.0066},{"d":"2018-11-15T06:00","v":0.00258,"l":0.00192,"u":0.006},{"d":"2018-11-16T03:00","v":0.00252,"l":0.00195,"u":0.0061},{"d":"2018-11-16T12:00","v":0.00233,"l":0.00195,"u":0.006},{"d":"2018-11-17T05:00","v":0.00232,"l":0.00195,"u":0.006},{"d":"2018-11-17T13:00","v":0.00228,"l":0.00192,"u":0.0063},{"d":"2018-11-18T14:00","v":0.00252,"l":0.00192,"u":0.006},{"d":"2018-11-18T23:00","v":0.00228,"l":0.00192,"u":0.0062},{"d":"2018-11-19T08:00","v":0.00245,"l":0.00192,"u":0.0063},{"d":"2018-11-20T02:00","v":0.00256,"l":0.00195,"u":0.0062},{"d":"2018-11-20T22:00","v":0.00252,"l":0.00195,"u":0.0066},{"d":"2018-11-21T05:00","v":0.00232,"l":0.00195,"u":0.0064},{"d":"2018-11-22T20:00","v":0.00252,"l":0.00192,"u":0.0065},{"d":"2018-11-23T10:00","v":0.00228,"l":0.00192,"u":0.0062},{"d":"2018-11-25T03:00","v":0.0025,"l":0.00185,"u":0.0086},{"d":"2018-11-26T05:00","v":0.00255,"l":0.00192,"u":0.0064},{"d":"2018-11-27T00:00","v":0.00232,"l":0.00192,"u":0.006},{"d":"2018-11-27T23:00","v":0.00258,"l":0.00195,"u":0.0063},{"d":"2018-11-28T22:00","v":0.00252,"l":0.00192,"u":0.0062},{"d":"2018-11-30T01:00","v":0.00252,"l":0.00192,"u":0.0061},{"d":"2018-12-03T03:00","v":0.00236,"l":0.00187,"u":0.0062},{"d":"2018-12-04T12:00","v":0.00262,"l":0.00192,"u":0.0063},{"d":"2018-12-05T02:00","v":0.00226,"l":0.00192,"u":0.0065},
{"d":"2019-01-06T03:00","v":0.0025,"l":0.0019,"u":0.0061},{"d":"2019-01-07T10:00","v":0.0024,"l":0.00188,"u":0.0063},{"d":"2019-01-08T01:00","v":0.00226,"l":0.00188,"u":0.0061},{"d":"2019-01-09T05:00","v":0.00245,"l":0.00188,"u":0.006},{"d":"2019-01-09T20:00","v":0.00226,"l":0.00188,"u":0.0062},{"d":"2019-01-10T21:00","v":0.00246,"l":0.00192,"u":0.0059},{"d":"2019-01-11T14:00","v":0.00248,"l":0.0019,"u":0.0062},{"d":"2019-01-15T00:00","v":0.00232,"l":0.00195,"u":0.0065},{"d":"2019-01-16T15:00","v":0.00248,"l":0.002,"u":0.0063},{"d":"2019-01-17T05:00","v":0.00232,"l":0.002,"u":0.0061},{"d":"2019-01-18T04:00","v":0.00245,"l":0.002,"u":0.0062},{"d":"2019-01-18T21:00","v":0.00233,"l":0.002,"u":0.0062},{"d":"2019-01-19T14:00","v":0.00262,"l":0.002,"u":0.0065},{"d":"2019-01-20T06:00","v":0.00232,"l":0.00205,"u":0.0065},{"d":"2019-01-20T15:00","v":0.00236,"l":0.00205,"u":0.0065},{"d":"2019-01-21T08:00","v":0.00262,"l":0.002,"u":0.0067},{"d":"2019-01-22T11:00","v":0.00232,"l":0.002,"u":0.0061},{"d":"2019-01-23T05:00","v":0.00265,"l":0.002,"u":0.0064},{"d":"2019-01-23T15:00","v":0.00232,"l":0.002,"u":0.0066},{"d":"2019-01-24T08:00","v":0.00238,"l":0.002,"u":0.0065},{"d":"2019-01-25T17:00","v":0.0026,"l":0.00195,"u":0.0062},{"d":"2019-01-26T10:00","v":0.00258,"l":0.0019,"u":0.0061},{"d":"2019-01-27T07:00","v":0.00256,"l":0.0019,"u":0.006},{"d":"2019-01-29T00:00","v":0.00245,"l":0.0021,"u":0.0066},{"d":"2019-01-29T16:00","v":0.00245,"l":0.0021,"u":0.0065},{"d":"2019-01-30T00:00","v":0.00252,"l":0.0021,"u":0.0066},{"d":"2019-01-31T05:00","v":0.00248,"l":0.0021,"u":0.0065},{"d":"2019-02-01T02:00","v":0.00248,"l":0.0021,"u":0.0064},{"d":"2019-02-03T09:00","v":0.00262,"l":0.0021,"u":0.0068},{"d":"2019-02-04T00:00","v":0.00265,"l":0.0021,"u":0.0066},{"d":"2019-02-04T11:00","v":0.00262,"l":0.0021,"u":0.0066},{"d":"2019-02-05T12:00","v":0.0027,"l":0.0022,"u":0.0065},{"d":"2019-02-06T10:00","v":0.00272,"l":0.0021,"u":0.007},{"d":"2019-02-07T08:00","v":0.00275,"l":0.0021,"u":0.0068},{"d":"2019-02-07T22:00","v":0.00272,"l":0.0022,"u":0.007},{"d":"2019-02-08T12:00","v":0.00272,"l":0.0021,"u":0.007},{"d":"2019-02-10T00:00","v":0.00272,"l":0.0021,"u":0.0069},{"d":"2019-02-11T13:00","v":0.00268,"l":0.0021,"u":0.0069},{"d":"2019-02-12T10:00","v":0.00272,"l":0.0021,"u":0.0068},{"d":"2019-02-13T18:00","v":0.00272,"l":0.0021,"u":0.0066},{"d":"2019-02-14T13:00","v":0.00272,"l":0.0021,"u":0.0068},{"d":"2019-02-15T17:00","v":0.00272,"l":0.0021,"u":0.0065},{"d":"2019-02-17T01:00","v":0.00272,"l":0.0021,"u":0.0066},{"d":"2019-02-17T13:00","v":0.00268,"l":0.0021,"u":0.0068},{"d":"2019-02-18T02:00","v":0.00272,"l":0.0021,"u":0.0066},{"d":"2019-02-19T03:00","v":0.00272,"l":0.0021,"u":0.0067},{"d":"2019-02-20T04:00","v":0.00268,"l":0.0021,"u":0.0068},{"d":"2019-02-20T11:00","v":0.00282,"l":0.0022,"u":0.0069}
]},
"layer":[
{"mark":{"type":"area","color":"#5DA5DA","opacity":0.2,"clip":true},"encoding":{"x":{"field":"d","type":"temporal","scale":{"domain":["2018-07-02T16:00","2019-03-06T15:00"]},"axis":{"title":null,"format":"%b %Y","values":["2018-08-01T00:00","2018-09-01T00:00","2018-10-01T00:00","2018-11-01T00:00","2018-12-01T00:00","2019-01-01T00:00","2019-02-01T00:00","2019-03-01T00:00"],"domain":false,"ticks":false,"grid":true,"gridColor":"#eeeeee","gridWidth":1.5,"labelFont":"DejaVu Sans","labelFontSize":18.2,"labelColor":"#444444","labelPadding":4,"labelFlush":false}},"y":{"field":"u","type":"quantitative","scale":{"domain":[0.000159,0.00772],"nice":false,"zero":false},"axis":{"title":"Duration (msec)","titleFont":"DejaVu Sans","titleFontSize":20.5,"titleFontWeight":"normal","titleColor":"#444444","titlePadding":5,"format":".3f","values":[0.001,0.002,0.003,0.004,0.005,0.006,0.007],"domain":false,"ticks":false,"grid":true,"gridColor":"#eeeeee","gridWidth":1.5,"labelFont":"DejaVu Sans","labelFontSize":18.2,"labelColor":"#444444","labelPadding":3}},"y2":{"field":"l"}}},
{"mark":{"type":"line","color":"#5DA5DA","strokeWidth":3.5,"clip":true,"point":{"filled":true,"size":90,"color":"#5DA5DA","opacity":1}},"encoding":{"x":{"field":"d","type":"temporal"},"y":{"field":"v","type":"quantitative"}}},
{"data":{"values":[{"t":"/"}]},"mark":{"type":"text","color":"#ee0000","fontSize":29,"font":"Open Sans","align":"left","baseline":"alphabetic","x":-6,"y":-201},"encoding":{"text":{"field":"t"}}},
{"data":{"values":[{"t":"/"}]},"mark":{"type":"text","color":"#ee0000","fontSize":29,"font":"Open Sans","align":"left","baseline":"alphabetic","x":204,"y":-201},"encoding":{"text":{"field":"t"}}},
{"data":{"values":[{"t":"/"}]},"mark":{"type":"text","color":"#ee0000","fontSize":29,"font":"Open Sans","align":"left","baseline":"alphabetic","x":306,"y":-201},"encoding":{"text":{"field":"t"}}},
{"data":{"values":[{"t":"/"}]},"mark":{"type":"text","color":"#ee0000","fontSize":29,"font":"Open Sans","align":"left","baseline":"alphabetic","x":591,"y":-201},"encoding":{"text":{"field":"t"}}}
]}
